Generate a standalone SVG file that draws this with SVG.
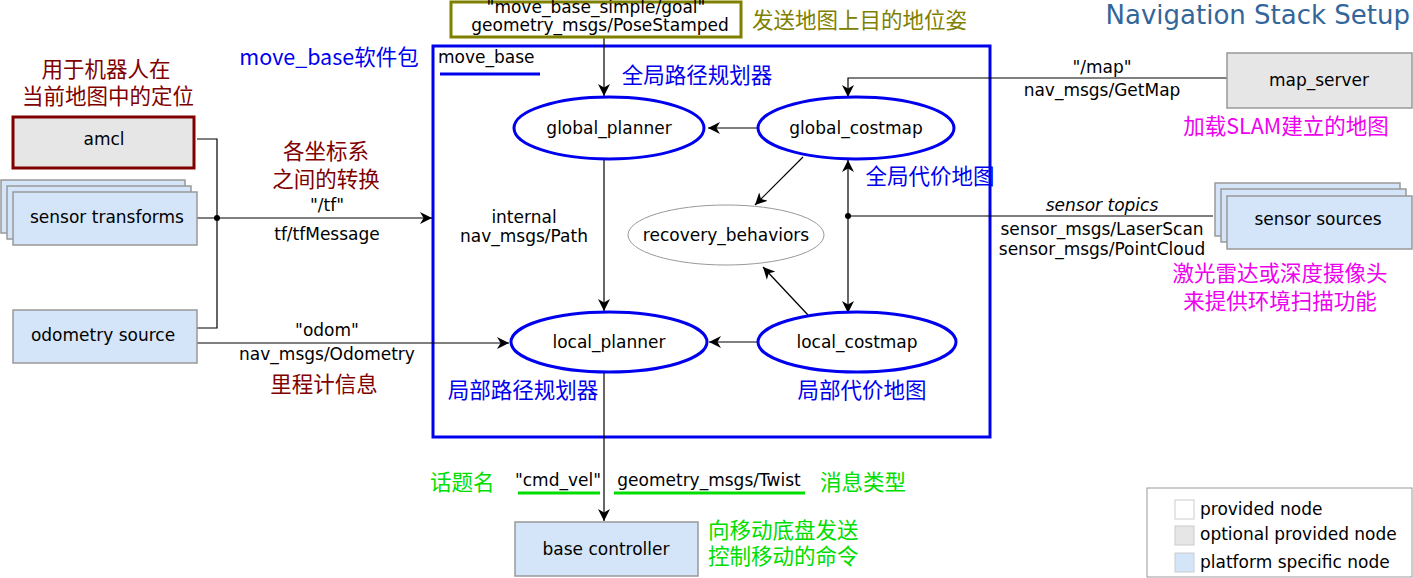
<svg xmlns="http://www.w3.org/2000/svg" width="1413" height="578" viewBox="0 0 1413 578">
<defs>
<marker id="ar" viewBox="0 0 10 10" refX="10" refY="5" markerWidth="12" markerHeight="12" markerUnits="userSpaceOnUse" orient="auto-start-reverse"><path d="M0,0 L10,5 L0,10 L3,5 z" fill="#000"/></marker>
<style>
text{font-family:"DejaVu Sans",sans-serif;font-size:17px;fill:#000}
.c{text-anchor:middle}
.cj{font-family:"Noto Sans CJK SC",sans-serif;font-size:21.5px}
.red{fill:#800000}.blue{fill:#0000ee}.mag{fill:#ee00ee}.grn{fill:#00dd00}.olv{fill:#808000}
.plat{fill:#d5e5f9;stroke:#999;stroke-width:1.5}
.opt{fill:#e6e6e6;stroke:#999;stroke-width:1.5}
.ln{fill:none;stroke:#000;stroke-width:1.2}
.el{fill:#fff;stroke:#0000ee;stroke-width:3}
</style>
</defs>
<rect width="1413" height="578" fill="#fff"/>
<text x="1410" y="24" style="font-size:26px;fill:#336699" text-anchor="end">Navigation Stack Setup</text>

<g id="move_base"><rect x="433" y="46" width="557" height="391" fill="none" stroke="#0000ee" stroke-width="3"/><text x="438" y="63">move_base</text><line x1="440" y1="74" x2="540" y2="74" stroke="#0000ee" stroke-width="3"/></g>

<g id="connectors">
<path class="ln" d="M197,139 H217 V328 H197"/>
<circle cx="217" cy="218" r="3"/>
<line class="ln" x1="197" y1="218" x2="432" y2="218" marker-end="url(#ar)"/>
<line class="ln" x1="197" y1="343" x2="509" y2="343" marker-end="url(#ar)"/>
<line class="ln" x1="604" y1="37" x2="604" y2="96" marker-end="url(#ar)" stroke="#666"/>
<line class="ln" x1="757" y1="128" x2="708" y2="128" marker-end="url(#ar)"/>
<line class="ln" x1="604" y1="160" x2="604" y2="311" marker-end="url(#ar)" stroke="#555"/>
<line class="ln" x1="758" y1="342" x2="709" y2="342" marker-end="url(#ar)"/>
<line class="ln" x1="803" y1="157" x2="755" y2="205" marker-end="url(#ar)"/>
<line class="ln" x1="808" y1="315" x2="763" y2="267" marker-end="url(#ar)"/>
<path class="ln" d="M1227,78 H848 V97" marker-end="url(#ar)"/>
<line class="ln" x1="1213" y1="216" x2="848" y2="216" stroke="#555"/>
<circle cx="848" cy="216" r="3"/>
<line class="ln" x1="848" y1="216" x2="848" y2="160" marker-end="url(#ar)"/>
<line class="ln" x1="848" y1="216" x2="848" y2="313" marker-end="url(#ar)"/>
<line class="ln" x1="604" y1="373" x2="604" y2="521" marker-end="url(#ar)"/>
</g>

<g id="amcl"><rect x="13" y="117" width="181" height="51" fill="#e6e6e6" stroke="#800000" stroke-width="3"/><text class="c" x="104" y="145">amcl</text></g>
<g id="sensor_transforms"><rect class="plat" x="1" y="180" width="184" height="53"/><rect class="plat" x="7" y="186" width="184" height="53"/><rect class="plat" x="13" y="192" width="184" height="53"/><text class="c" x="107" y="223">sensor transforms</text></g>
<g id="odometry_source"><rect class="plat" x="13" y="310" width="184" height="53"/><text class="c" x="103" y="341">odometry source</text></g>
<g id="goal"><rect x="451" y="2" width="290" height="35" fill="#fff" stroke="#808000" stroke-width="3"/><text class="c" x="596" y="13">"move_base_simple/goal"</text><text class="c" x="600" y="31">geometry_msgs/PoseStamped</text></g>
<g id="global_planner"><ellipse class="el" cx="609" cy="128" rx="95" ry="31"/><text class="c" x="609" y="134">global_planner</text></g>
<g id="global_costmap"><ellipse class="el" cx="856" cy="128" rx="98" ry="31"/><text class="c" x="856" y="134">global_costmap</text></g>
<g id="recovery_behaviors"><ellipse cx="726" cy="235" rx="98" ry="30" fill="#fff" stroke="#999" stroke-width="1"/><text class="c" x="726" y="241">recovery_behaviors</text></g>
<g id="local_planner"><ellipse class="el" cx="609" cy="342" rx="98" ry="30"/><text class="c" x="609" y="348">local_planner</text></g>
<g id="local_costmap"><ellipse class="el" cx="857" cy="342" rx="99" ry="30"/><text class="c" x="857" y="348">local_costmap</text></g>
<g id="map_server"><rect class="opt" x="1227" y="53" width="185" height="55"/><text class="c" x="1319" y="86">map_server</text></g>
<g id="sensor_sources"><rect class="plat" x="1215" y="183" width="185" height="53"/><rect class="plat" x="1221" y="189" width="185" height="53"/><rect class="plat" x="1227" y="196" width="185" height="53"/><text class="c" x="1318" y="225">sensor sources</text></g>
<g id="base_controller"><rect class="plat" x="515" y="522" width="183" height="54"/><text class="c" x="606" y="555">base controller</text></g>
<g id="legend"><rect x="1147" y="488" width="265" height="89" fill="#fff" stroke="#999"/>
<rect x="1175" y="500" width="19" height="19" fill="#fff" stroke="#ccc"/><text x="1200" y="515">provided node</text>
<rect x="1175" y="526" width="19" height="19" fill="#e6e6e6" stroke="#ccc"/><text x="1200" y="540">optional provided node</text>
<rect x="1175" y="553" width="19" height="19" fill="#d5e5f9" stroke="#ccc"/><text x="1200" y="568">platform specific node</text></g>

<g id="labels">
<text class="c cj red" x="106" y="77">用于机器人在</text>
<text class="c cj red" x="108" y="104">当前地图中的定位</text>
<text class="c cj red" x="326" y="159">各坐标系</text>
<text class="c cj red" x="326" y="187">之间的转换</text>
<text class="c" x="327" y="211">"/tf"</text>
<text class="c" x="327" y="240">tf/tfMessage</text>
<text class="c" x="327" y="336">"odom"</text>
<text class="c" x="327" y="360">nav_msgs/Odometry</text>
<text class="c cj red" x="324" y="392">里程计信息</text>
<text class="c cj blue" x="329" y="65">move_base软件包</text>
<text class="c cj blue" x="697" y="83">全局路径规划器</text>
<text class="c cj blue" x="930" y="184">全局代价地图</text>
<text class="c cj blue" x="523" y="398">局部路径规划器</text>
<text class="c cj blue" x="862" y="398">局部代价地图</text>
<text class="c" x="524" y="223">internal</text>
<text class="c" x="524" y="242">nav_msgs/Path</text>
<text class="c" x="1102" y="73">"/map"</text>
<text class="c" x="1102" y="96">nav_msgs/GetMap</text>
<text class="c cj mag" x="1286" y="134">加载SLAM建立的地图</text>
<text class="c" x="1102" y="211" font-style="italic">sensor topics</text>
<text class="c" x="1102" y="235">sensor_msgs/LaserScan</text>
<text class="c" x="1102" y="255">sensor_msgs/PointCloud</text>
<text class="c cj mag" x="1280" y="281">激光雷达或深度摄像头</text>
<text class="c cj mag" x="1280" y="309">来提供环境扫描功能</text>
<text class="cj olv" x="752" y="28">发送地图上目的地位姿</text>
<text class="cj grn" x="430" y="490">话题名</text>
<text class="c" x="558" y="486">"cmd_vel"</text>
<line x1="518" y1="493" x2="600" y2="493" stroke="#00dd00" stroke-width="3"/>
<text class="c" x="709" y="486">geometry_msgs/Twist</text>
<line x1="614" y1="493" x2="805" y2="493" stroke="#00dd00" stroke-width="3"/>
<text class="cj grn" x="820" y="490">消息类型</text>
<text class="cj grn" x="708" y="538">向移动底盘发送</text>
<text class="cj grn" x="708" y="564">控制移动的命令</text>
</g>
</svg>
